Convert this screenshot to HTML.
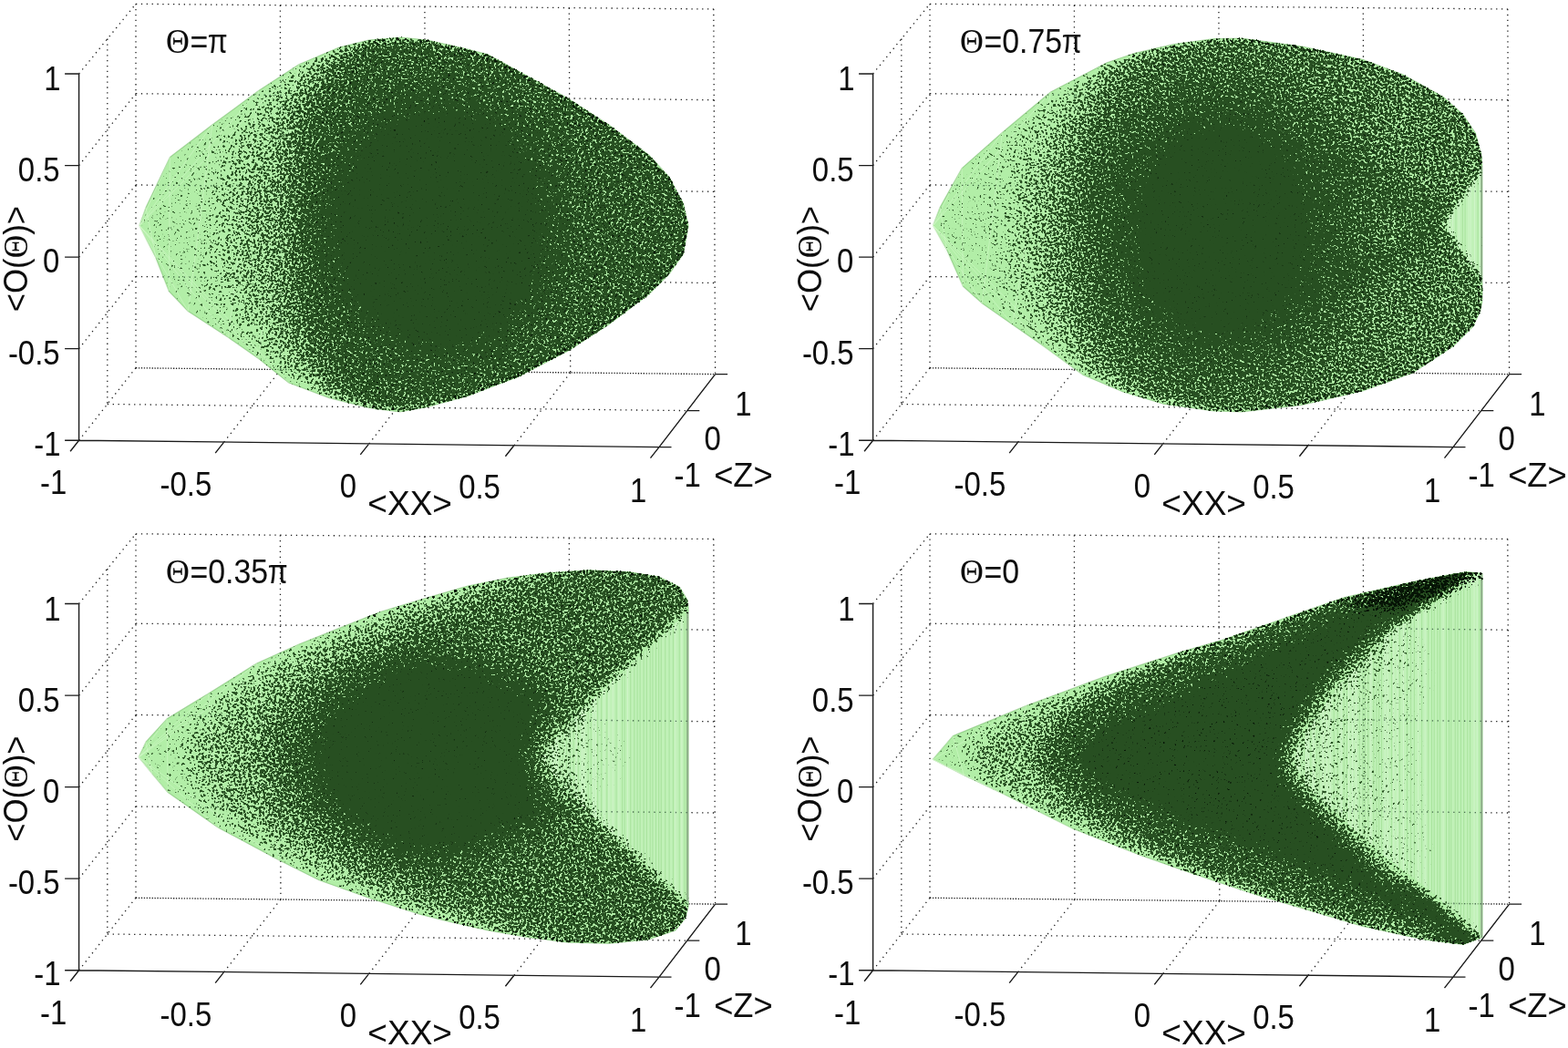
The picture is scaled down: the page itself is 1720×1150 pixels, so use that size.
<!DOCTYPE html>
<html lang="en"><head><meta charset="utf-8"><title>Figure</title>
<style>html,body{margin:0;padding:0;background:#fff;overflow:hidden}svg{display:block}text{font-family:"Liberation Sans",sans-serif}</style>
</head><body>
<svg width="1720" height="1150" viewBox="0 0 1720 1150">
<defs>
<filter id="stip0" filterUnits="userSpaceOnUse" x="110" y="-420" width="810" height="755" color-interpolation-filters="sRGB">
<feTurbulence type="fractalNoise" baseFrequency="0.42" numOctaves="2" seed="7" result="t"/>
<feColorMatrix in="t" type="matrix" values="0 0 0 1 0  0 0 0 0 0  0 0 0 1 0  0 0 0 0 1" result="n0"/>
<feComponentTransfer in="n0" result="n"><feFuncR type="table" tableValues="0 0 0 0 0 0 0 0 0 0 0 0 0 0 0 0 0 0 0 0 0 0 0 0 0 0 0.001 0.001 0.001 0.002 0.002 0.003 0.004 0.005 0.007 0.009 0.011 0.014 0.018 0.022 0.028 0.034 0.041 0.049 0.059 0.069 0.08 0.093 0.107 0.123 0.139 0.157 0.176 0.197 0.218 0.242 0.266 0.292 0.32 0.348 0.378 0.409 0.441 0.473 0.506 0.539 0.572 0.604 0.635 0.664 0.693 0.72 0.745 0.77 0.792 0.814 0.834 0.853 0.87 0.886 0.901 0.914 0.927 0.938 0.948 0.956 0.964 0.971 0.976 0.981 0.985 0.988 0.991 0.993 0.995 0.996 0.997 0.998 0.998 0.999 0.999 0.999 1 1 1 1 1 1 1 1 1 1 1 1 1 1 1 1 1 1 1 1 1 1 1 1 1 1 1"/><feFuncB type="table" tableValues="0 0 0 0 0 0 0 0 0 0 0 0 0 0 0 0 0 0 0 0 0 0 0 0 0 0 0.001 0.001 0.001 0.002 0.002 0.003 0.004 0.005 0.007 0.009 0.011 0.014 0.018 0.022 0.028 0.034 0.041 0.049 0.059 0.069 0.08 0.093 0.107 0.123 0.139 0.157 0.176 0.197 0.218 0.242 0.266 0.292 0.32 0.348 0.378 0.409 0.441 0.473 0.506 0.539 0.572 0.604 0.635 0.664 0.693 0.72 0.745 0.77 0.792 0.814 0.834 0.853 0.87 0.886 0.901 0.914 0.927 0.938 0.948 0.956 0.964 0.971 0.976 0.981 0.985 0.988 0.991 0.993 0.995 0.996 0.997 0.998 0.998 0.999 0.999 0.999 1 1 1 1 1 1 1 1 1 1 1 1 1 1 1 1 1 1 1 1 1 1 1 1 1 1 1"/></feComponentTransfer>
<feComponentTransfer in="SourceGraphic" result="d"><feFuncR type="table" tableValues="0 0.0205 0.0281 0.0342 0.0399 0.0447 0.05 0.0554 0.0608 0.0682 0.0751 0.082 0.089 0.096 0.1052 0.1137 0.1233 0.1323 0.1398 0.1517 0.1644 0.1734 0.1823 0.1923 0.2105 0.2239 0.2354 0.2482 0.2599 0.27 0.2824 0.2997 0.3131 0.3285 0.3434 0.3525 0.3701 0.3807 0.4066 0.4166 0.4264 0.4487 0.4661 0.4789 0.5068 0.5153 0.5354 0.5593 0.5759 0.5903 0.6144 0.6327 0.6554 0.6778 0.7014 0.7249 0.7496 0.7673 0.7942 0.8161 0.8437 0.8729 0.8953 0.9179 1"/><feFuncB type="table" tableValues="0 0.0205 0.0281 0.0342 0.0399 0.0447 0.05 0.0554 0.0608 0.0682 0.0751 0.082 0.089 0.096 0.1052 0.1137 0.1233 0.1323 0.1398 0.1517 0.1644 0.1734 0.1823 0.1923 0.2105 0.2239 0.2354 0.2482 0.2599 0.27 0.2824 0.2997 0.3131 0.3285 0.3434 0.3525 0.3701 0.3807 0.4066 0.4166 0.4264 0.4487 0.4661 0.4789 0.5068 0.5153 0.5354 0.5593 0.5759 0.5903 0.6144 0.6327 0.6554 0.6778 0.7014 0.7249 0.7496 0.7673 0.7942 0.8161 0.8437 0.8729 0.8953 0.9179 1"/></feComponentTransfer>
<feComposite in="d" in2="n" operator="arithmetic" k1="0" k2="13.0" k3="-12.0" k4="0" result="c"/>
<feGaussianBlur in="c" stdDeviation="0.6" result="bl"/>
<feComponentTransfer in="bl" result="g"><feFuncR type="linear" slope="4.0" intercept="-0.35"/><feFuncB type="linear" slope="4.0" intercept="-0.35"/></feComponentTransfer>
<feColorMatrix in="g" type="matrix" values="0 0 -0.129 0 0.153  0 0 -0.231 0 0.310  0 0 -0.106 0 0.129  1 0 1 0 0"/>
</filter>
<filter id="stip1" filterUnits="userSpaceOnUse" x="110" y="-420" width="810" height="755" color-interpolation-filters="sRGB">
<feTurbulence type="fractalNoise" baseFrequency="0.42" numOctaves="2" seed="12" result="t"/>
<feColorMatrix in="t" type="matrix" values="0 0 0 1 0  0 0 0 0 0  0 0 0 1 0  0 0 0 0 1" result="n0"/>
<feComponentTransfer in="n0" result="n"><feFuncR type="table" tableValues="0 0 0 0 0 0 0 0 0 0 0 0 0 0 0 0 0 0 0 0 0 0 0 0 0 0 0.001 0.001 0.001 0.002 0.002 0.003 0.004 0.005 0.007 0.009 0.011 0.014 0.018 0.022 0.028 0.034 0.041 0.049 0.059 0.069 0.08 0.093 0.107 0.123 0.139 0.157 0.176 0.197 0.218 0.242 0.266 0.292 0.32 0.348 0.378 0.409 0.441 0.473 0.506 0.539 0.572 0.604 0.635 0.664 0.693 0.72 0.745 0.77 0.792 0.814 0.834 0.853 0.87 0.886 0.901 0.914 0.927 0.938 0.948 0.956 0.964 0.971 0.976 0.981 0.985 0.988 0.991 0.993 0.995 0.996 0.997 0.998 0.998 0.999 0.999 0.999 1 1 1 1 1 1 1 1 1 1 1 1 1 1 1 1 1 1 1 1 1 1 1 1 1 1 1"/><feFuncB type="table" tableValues="0 0 0 0 0 0 0 0 0 0 0 0 0 0 0 0 0 0 0 0 0 0 0 0 0 0 0.001 0.001 0.001 0.002 0.002 0.003 0.004 0.005 0.007 0.009 0.011 0.014 0.018 0.022 0.028 0.034 0.041 0.049 0.059 0.069 0.08 0.093 0.107 0.123 0.139 0.157 0.176 0.197 0.218 0.242 0.266 0.292 0.32 0.348 0.378 0.409 0.441 0.473 0.506 0.539 0.572 0.604 0.635 0.664 0.693 0.72 0.745 0.77 0.792 0.814 0.834 0.853 0.87 0.886 0.901 0.914 0.927 0.938 0.948 0.956 0.964 0.971 0.976 0.981 0.985 0.988 0.991 0.993 0.995 0.996 0.997 0.998 0.998 0.999 0.999 0.999 1 1 1 1 1 1 1 1 1 1 1 1 1 1 1 1 1 1 1 1 1 1 1 1 1 1 1"/></feComponentTransfer>
<feComponentTransfer in="SourceGraphic" result="d"><feFuncR type="table" tableValues="0 0.0205 0.0281 0.0342 0.0399 0.0447 0.05 0.0554 0.0608 0.0682 0.0751 0.082 0.089 0.096 0.1052 0.1137 0.1233 0.1323 0.1398 0.1517 0.1644 0.1734 0.1823 0.1923 0.2105 0.2239 0.2354 0.2482 0.2599 0.27 0.2824 0.2997 0.3131 0.3285 0.3434 0.3525 0.3701 0.3807 0.4066 0.4166 0.4264 0.4487 0.4661 0.4789 0.5068 0.5153 0.5354 0.5593 0.5759 0.5903 0.6144 0.6327 0.6554 0.6778 0.7014 0.7249 0.7496 0.7673 0.7942 0.8161 0.8437 0.8729 0.8953 0.9179 1"/><feFuncB type="table" tableValues="0 0.0205 0.0281 0.0342 0.0399 0.0447 0.05 0.0554 0.0608 0.0682 0.0751 0.082 0.089 0.096 0.1052 0.1137 0.1233 0.1323 0.1398 0.1517 0.1644 0.1734 0.1823 0.1923 0.2105 0.2239 0.2354 0.2482 0.2599 0.27 0.2824 0.2997 0.3131 0.3285 0.3434 0.3525 0.3701 0.3807 0.4066 0.4166 0.4264 0.4487 0.4661 0.4789 0.5068 0.5153 0.5354 0.5593 0.5759 0.5903 0.6144 0.6327 0.6554 0.6778 0.7014 0.7249 0.7496 0.7673 0.7942 0.8161 0.8437 0.8729 0.8953 0.9179 1"/></feComponentTransfer>
<feComposite in="d" in2="n" operator="arithmetic" k1="0" k2="13.0" k3="-12.0" k4="0" result="c"/>
<feGaussianBlur in="c" stdDeviation="0.6" result="bl"/>
<feComponentTransfer in="bl" result="g"><feFuncR type="linear" slope="4.0" intercept="-0.35"/><feFuncB type="linear" slope="4.0" intercept="-0.35"/></feComponentTransfer>
<feColorMatrix in="g" type="matrix" values="0 0 -0.129 0 0.153  0 0 -0.231 0 0.310  0 0 -0.106 0 0.129  1 0 1 0 0"/>
</filter>
<filter id="stip2" filterUnits="userSpaceOnUse" x="110" y="-420" width="810" height="755" color-interpolation-filters="sRGB">
<feTurbulence type="fractalNoise" baseFrequency="0.42" numOctaves="2" seed="17" result="t"/>
<feColorMatrix in="t" type="matrix" values="0 0 0 1 0  0 0 0 0 0  0 0 0 1 0  0 0 0 0 1" result="n0"/>
<feComponentTransfer in="n0" result="n"><feFuncR type="table" tableValues="0 0 0 0 0 0 0 0 0 0 0 0 0 0 0 0 0 0 0 0 0 0 0 0 0 0 0.001 0.001 0.001 0.002 0.002 0.003 0.004 0.005 0.007 0.009 0.011 0.014 0.018 0.022 0.028 0.034 0.041 0.049 0.059 0.069 0.08 0.093 0.107 0.123 0.139 0.157 0.176 0.197 0.218 0.242 0.266 0.292 0.32 0.348 0.378 0.409 0.441 0.473 0.506 0.539 0.572 0.604 0.635 0.664 0.693 0.72 0.745 0.77 0.792 0.814 0.834 0.853 0.87 0.886 0.901 0.914 0.927 0.938 0.948 0.956 0.964 0.971 0.976 0.981 0.985 0.988 0.991 0.993 0.995 0.996 0.997 0.998 0.998 0.999 0.999 0.999 1 1 1 1 1 1 1 1 1 1 1 1 1 1 1 1 1 1 1 1 1 1 1 1 1 1 1"/><feFuncB type="table" tableValues="0 0 0 0 0 0 0 0 0 0 0 0 0 0 0 0 0 0 0 0 0 0 0 0 0 0 0.001 0.001 0.001 0.002 0.002 0.003 0.004 0.005 0.007 0.009 0.011 0.014 0.018 0.022 0.028 0.034 0.041 0.049 0.059 0.069 0.08 0.093 0.107 0.123 0.139 0.157 0.176 0.197 0.218 0.242 0.266 0.292 0.32 0.348 0.378 0.409 0.441 0.473 0.506 0.539 0.572 0.604 0.635 0.664 0.693 0.72 0.745 0.77 0.792 0.814 0.834 0.853 0.87 0.886 0.901 0.914 0.927 0.938 0.948 0.956 0.964 0.971 0.976 0.981 0.985 0.988 0.991 0.993 0.995 0.996 0.997 0.998 0.998 0.999 0.999 0.999 1 1 1 1 1 1 1 1 1 1 1 1 1 1 1 1 1 1 1 1 1 1 1 1 1 1 1"/></feComponentTransfer>
<feComponentTransfer in="SourceGraphic" result="d"><feFuncR type="table" tableValues="0 0.0205 0.0281 0.0342 0.0399 0.0447 0.05 0.0554 0.0608 0.0682 0.0751 0.082 0.089 0.096 0.1052 0.1137 0.1233 0.1323 0.1398 0.1517 0.1644 0.1734 0.1823 0.1923 0.2105 0.2239 0.2354 0.2482 0.2599 0.27 0.2824 0.2997 0.3131 0.3285 0.3434 0.3525 0.3701 0.3807 0.4066 0.4166 0.4264 0.4487 0.4661 0.4789 0.5068 0.5153 0.5354 0.5593 0.5759 0.5903 0.6144 0.6327 0.6554 0.6778 0.7014 0.7249 0.7496 0.7673 0.7942 0.8161 0.8437 0.8729 0.8953 0.9179 1"/><feFuncB type="table" tableValues="0 0.0205 0.0281 0.0342 0.0399 0.0447 0.05 0.0554 0.0608 0.0682 0.0751 0.082 0.089 0.096 0.1052 0.1137 0.1233 0.1323 0.1398 0.1517 0.1644 0.1734 0.1823 0.1923 0.2105 0.2239 0.2354 0.2482 0.2599 0.27 0.2824 0.2997 0.3131 0.3285 0.3434 0.3525 0.3701 0.3807 0.4066 0.4166 0.4264 0.4487 0.4661 0.4789 0.5068 0.5153 0.5354 0.5593 0.5759 0.5903 0.6144 0.6327 0.6554 0.6778 0.7014 0.7249 0.7496 0.7673 0.7942 0.8161 0.8437 0.8729 0.8953 0.9179 1"/></feComponentTransfer>
<feComposite in="d" in2="n" operator="arithmetic" k1="0" k2="13.0" k3="-12.0" k4="0" result="c"/>
<feGaussianBlur in="c" stdDeviation="0.6" result="bl"/>
<feComponentTransfer in="bl" result="g"><feFuncR type="linear" slope="4.0" intercept="-0.35"/><feFuncB type="linear" slope="4.0" intercept="-0.35"/></feComponentTransfer>
<feColorMatrix in="g" type="matrix" values="0 0 -0.129 0 0.153  0 0 -0.231 0 0.310  0 0 -0.106 0 0.129  1 0 1 0 0"/>
</filter>
<filter id="stip3" filterUnits="userSpaceOnUse" x="110" y="-420" width="810" height="755" color-interpolation-filters="sRGB">
<feTurbulence type="fractalNoise" baseFrequency="0.42" numOctaves="2" seed="22" result="t"/>
<feColorMatrix in="t" type="matrix" values="0 0 0 1 0  0 0 0 0 0  0 0 0 1 0  0 0 0 0 1" result="n0"/>
<feComponentTransfer in="n0" result="n"><feFuncR type="table" tableValues="0 0 0 0 0 0 0 0 0 0 0 0 0 0 0 0 0 0 0 0 0 0 0 0 0 0 0.001 0.001 0.001 0.002 0.002 0.003 0.004 0.005 0.007 0.009 0.011 0.014 0.018 0.022 0.028 0.034 0.041 0.049 0.059 0.069 0.08 0.093 0.107 0.123 0.139 0.157 0.176 0.197 0.218 0.242 0.266 0.292 0.32 0.348 0.378 0.409 0.441 0.473 0.506 0.539 0.572 0.604 0.635 0.664 0.693 0.72 0.745 0.77 0.792 0.814 0.834 0.853 0.87 0.886 0.901 0.914 0.927 0.938 0.948 0.956 0.964 0.971 0.976 0.981 0.985 0.988 0.991 0.993 0.995 0.996 0.997 0.998 0.998 0.999 0.999 0.999 1 1 1 1 1 1 1 1 1 1 1 1 1 1 1 1 1 1 1 1 1 1 1 1 1 1 1"/><feFuncB type="table" tableValues="0 0 0 0 0 0 0 0 0 0 0 0 0 0 0 0 0 0 0 0 0 0 0 0 0 0 0.001 0.001 0.001 0.002 0.002 0.003 0.004 0.005 0.007 0.009 0.011 0.014 0.018 0.022 0.028 0.034 0.041 0.049 0.059 0.069 0.08 0.093 0.107 0.123 0.139 0.157 0.176 0.197 0.218 0.242 0.266 0.292 0.32 0.348 0.378 0.409 0.441 0.473 0.506 0.539 0.572 0.604 0.635 0.664 0.693 0.72 0.745 0.77 0.792 0.814 0.834 0.853 0.87 0.886 0.901 0.914 0.927 0.938 0.948 0.956 0.964 0.971 0.976 0.981 0.985 0.988 0.991 0.993 0.995 0.996 0.997 0.998 0.998 0.999 0.999 0.999 1 1 1 1 1 1 1 1 1 1 1 1 1 1 1 1 1 1 1 1 1 1 1 1 1 1 1"/></feComponentTransfer>
<feComponentTransfer in="SourceGraphic" result="d"><feFuncR type="table" tableValues="0 0.0205 0.0281 0.0342 0.0399 0.0447 0.05 0.0554 0.0608 0.0682 0.0751 0.082 0.089 0.096 0.1052 0.1137 0.1233 0.1323 0.1398 0.1517 0.1644 0.1734 0.1823 0.1923 0.2105 0.2239 0.2354 0.2482 0.2599 0.27 0.2824 0.2997 0.3131 0.3285 0.3434 0.3525 0.3701 0.3807 0.4066 0.4166 0.4264 0.4487 0.4661 0.4789 0.5068 0.5153 0.5354 0.5593 0.5759 0.5903 0.6144 0.6327 0.6554 0.6778 0.7014 0.7249 0.7496 0.7673 0.7942 0.8161 0.8437 0.8729 0.8953 0.9179 1"/><feFuncB type="table" tableValues="0 0.0205 0.0281 0.0342 0.0399 0.0447 0.05 0.0554 0.0608 0.0682 0.0751 0.082 0.089 0.096 0.1052 0.1137 0.1233 0.1323 0.1398 0.1517 0.1644 0.1734 0.1823 0.1923 0.2105 0.2239 0.2354 0.2482 0.2599 0.27 0.2824 0.2997 0.3131 0.3285 0.3434 0.3525 0.3701 0.3807 0.4066 0.4166 0.4264 0.4487 0.4661 0.4789 0.5068 0.5153 0.5354 0.5593 0.5759 0.5903 0.6144 0.6327 0.6554 0.6778 0.7014 0.7249 0.7496 0.7673 0.7942 0.8161 0.8437 0.8729 0.8953 0.9179 1"/></feComponentTransfer>
<feComposite in="d" in2="n" operator="arithmetic" k1="0" k2="13.0" k3="-12.0" k4="0" result="c"/>
<feGaussianBlur in="c" stdDeviation="0.6" result="bl"/>
<feComponentTransfer in="bl" result="g"><feFuncR type="linear" slope="4.0" intercept="-0.35"/><feFuncB type="linear" slope="4.0" intercept="-0.35"/></feComponentTransfer>
<feColorMatrix in="g" type="matrix" values="0 0 -0.129 0 0.153  0 0 -0.231 0 0.310  0 0 -0.106 0 0.129  1 0 1 0 0"/>
</filter>

<filter id="b2" x="-60%" y="-60%" width="220%" height="220%" color-interpolation-filters="sRGB"><feGaussianBlur stdDeviation="2"/></filter><filter id="b3" x="-60%" y="-60%" width="220%" height="220%" color-interpolation-filters="sRGB"><feGaussianBlur stdDeviation="3"/></filter><filter id="b4" x="-60%" y="-60%" width="220%" height="220%" color-interpolation-filters="sRGB"><feGaussianBlur stdDeviation="4"/></filter><filter id="b5" x="-60%" y="-60%" width="220%" height="220%" color-interpolation-filters="sRGB"><feGaussianBlur stdDeviation="5"/></filter><filter id="b9" x="-60%" y="-60%" width="220%" height="220%" color-interpolation-filters="sRGB"><feGaussianBlur stdDeviation="9"/></filter><filter id="b10" x="-60%" y="-60%" width="220%" height="220%" color-interpolation-filters="sRGB"><feGaussianBlur stdDeviation="10"/></filter><filter id="b11" x="-60%" y="-60%" width="220%" height="220%" color-interpolation-filters="sRGB"><feGaussianBlur stdDeviation="11"/></filter><filter id="b12" x="-60%" y="-60%" width="220%" height="220%" color-interpolation-filters="sRGB"><feGaussianBlur stdDeviation="12"/></filter><filter id="b15" x="-60%" y="-60%" width="220%" height="220%" color-interpolation-filters="sRGB"><feGaussianBlur stdDeviation="15"/></filter><filter id="b16" x="-60%" y="-60%" width="220%" height="220%" color-interpolation-filters="sRGB"><feGaussianBlur stdDeviation="16"/></filter><filter id="b18" x="-60%" y="-60%" width="220%" height="220%" color-interpolation-filters="sRGB"><feGaussianBlur stdDeviation="18"/></filter><filter id="b22" x="-60%" y="-60%" width="220%" height="220%" color-interpolation-filters="sRGB"><feGaussianBlur stdDeviation="22"/></filter><filter id="b24" x="-60%" y="-60%" width="220%" height="220%" color-interpolation-filters="sRGB"><feGaussianBlur stdDeviation="24"/></filter><filter id="b32" x="-60%" y="-60%" width="220%" height="220%" color-interpolation-filters="sRGB"><feGaussianBlur stdDeviation="32"/></filter>
<linearGradient id="rimL" gradientUnits="userSpaceOnUse" x1="330" y1="0" x2="560" y2="0"><stop offset="0" stop-color="#000" stop-opacity="0.7"/><stop offset="1" stop-color="#000" stop-opacity="0"/></linearGradient>
<linearGradient id="rimB" gradientUnits="userSpaceOnUse" x1="330" y1="0" x2="480" y2="0"><stop offset="0" stop-color="#000"/><stop offset="1" stop-color="#000050"/></linearGradient>
</defs>
<rect width="1720" height="1150" fill="#fff"/>
<g transform="translate(0 0)">
<path d="M149 4.2L149 403.8M307.4 5.7L307.9 405.5M465.9 7.1L466.8 407.2M624.3 8.6L625.7 408.9M782.8 10L784.6 410.6M149 4.3L782.8 10M149 102.7L783.2 109.7M149 202.9L783.7 210.3M149 303.5L784.1 310.5M149 403.7L784.6 410.7M86.6 81L149 4.3M86.6 181.6L149 102.7M86.6 282.1L149 202.9M86.6 382.6L149 303.5M86.6 483.2L149 403.7M117.8 42.6L117.8 443.5M245.7 485.1L307.9 405.5M404.8 486.9L466.8 407.2M563.9 488.8L625.7 408.9M117.8 443.5L753.8 450.6M149 403.8L784.6 410.6" fill="none" stroke="#1c1c1c" stroke-width="1.3" stroke-dasharray="1.3 4.56"/>
<path d="M149 403.8L784.6 410.6" fill="none" stroke="#1c1c1c" stroke-width="1.3" stroke-dasharray="1.3 4.56" stroke-dashoffset="2.93"/>
<path d="M86.6 81L86.6 483.2M86.6 483.2L723 490.6M723 490.6L784.6 410.6M71.1 81L86.6 81M71.1 181.6L86.6 181.6M71.1 282.1L86.6 282.1M71.1 382.6L86.6 382.6M71.1 483.2L86.6 483.2M86.6 483.2L77.1 495.2M245.7 485.1L236.2 497.1M404.8 486.9L395.3 498.9M563.9 488.8L554.4 500.8M723 490.6L713.5 502.6M723 490.6L736.5 490.6M753.8 450.6L767.3 450.6M784.6 410.6L798.1 410.6" fill="none" stroke="#1a1a1a" stroke-width="1.4" stroke-linecap="butt"/>
<clipPath id="hc0"><path d="M152.9 247.6L160 227.7L186.4 172.5L232.8 137.1L283.7 99.5L327.9 70.8L372 52L405.2 43.9L440 41L469 44L509 53L535.3 59.8L579.5 84L623.7 108.4L667.9 137.1L712 170.2L734.1 194.5L749.6 223.3L755.1 248L749.6 278.6L734.1 300.7L712 322.8L667.9 356L623.7 384.7L568.4 413.4L513.2 434.4L469 446.5L438.3 452L405.2 447.6L361 436.6L316.8 420L283.7 393.5L250.5 370.3L206.3 341.6L185.3 319.5L171 283Z"/></clipPath>
<path d="M152.9 247.6L160 227.7L186.4 172.5L232.8 137.1L283.7 99.5L327.9 70.8L372 52L405.2 43.9L440 41L469 44L509 53L535.3 59.8L579.5 84L623.7 108.4L667.9 137.1L712 170.2L734.1 194.5L749.6 223.3L755.1 248L749.6 278.6L734.1 300.7L712 322.8L667.9 356L623.7 384.7L568.4 413.4L513.2 434.4L469 446.5L438.3 452L405.2 447.6L361 436.6L316.8 420L283.7 393.5L250.5 370.3L206.3 341.6L185.3 319.5L171 283Z" fill="#7fe36c" fill-opacity="0.6" stroke="#5fae52" stroke-opacity="0.45" stroke-width="1.2" stroke-linejoin="round"/>
<path d="M152.9 247.6L160 227.7M152.9 247.6L186.4 172.5M152.9 247.6L232.8 137.1M152.9 247.6L283.7 99.5M152.9 247.6L327.9 70.8M152.9 247.6L316.8 420M152.9 247.6L283.7 393.5M152.9 247.6L250.5 370.3M152.9 247.6L206.3 341.6M152.9 247.6L185.3 319.5M152.9 247.6L171 283M160 227.7L171 283M186.4 172.5L185.3 319.5M232.8 137.1L206.3 341.6M283.7 99.5L250.5 370.3M327.9 70.8L283.7 393.5" fill="none" stroke="#e4ffdc" stroke-opacity="0.35" stroke-width="1"/>
<path d="M149 4.2L149 403.8M307.4 5.7L307.9 405.5M465.9 7.1L466.8 407.2M624.3 8.6L625.7 408.9M782.8 10L784.6 410.6M149 4.3L782.8 10M149 102.7L783.2 109.7M149 202.9L783.7 210.3M149 303.5L784.1 310.5M149 403.7L784.6 410.7M86.6 81L149 4.3M86.6 181.6L149 102.7M86.6 282.1L149 202.9M86.6 382.6L149 303.5M86.6 483.2L149 403.7M117.8 42.6L117.8 443.5M245.7 485.1L307.9 405.5M404.8 486.9L466.8 407.2M563.9 488.8L625.7 408.9M117.8 443.5L753.8 450.6M149 403.8L784.6 410.6" fill="none" stroke="#123" stroke-opacity="0.4" stroke-width="1.3" stroke-dasharray="1.3 4.56" clip-path="url(#hc0)"/>
<g transform="rotate(33.0)"><g filter="url(#stip0)"><g transform="rotate(-33.0)"><rect x="130" y="20" width="650" height="450" fill="#000"/><g clip-path="url(#hc0)">
<path d="M152.9 247.6L160 227.7L186.4 172.5L232.8 137.1L283.7 99.5L327.9 70.8L372 52L405.2 43.9L440 41L469 44L509 53L535.3 59.8L579.5 84L623.7 108.4L667.9 137.1L712 170.2L734.1 194.5L749.6 223.3L755.1 248L749.6 278.6L734.1 300.7L712 322.8L667.9 356L623.7 384.7L568.4 413.4L513.2 434.4L469 446.5L438.3 452L405.2 447.6L361 436.6L316.8 420L283.7 393.5L250.5 370.3L206.3 341.6L185.3 319.5L171 283Z" fill="#0d0000"/>
<path d="M248 248C248 232 248.5 214.7 251 200C253.5 185.3 257 172.5 263 160C269 147.5 277 136.2 287 125C297 113.8 310.5 102.5 323 93C335.5 83.5 350.5 76.8 362 68C373.5 59.2 383 54.7 392 40C401 25.3 331.3 -10 416 -20C500.7 -30 819.3 -109.3 900 -20C980.7 69.3 980.7 426.7 900 516C819.3 605.3 500.7 526 416 516C331.3 506 401 470.7 392 456C383 441.3 373.5 436.8 362 428C350.5 419.2 335.5 412.5 323 403C310.5 393.5 297 382.2 287 371C277 359.8 269 348.5 263 336C257 323.5 253.5 310.7 251 296C248.5 281.3 248 264 248 248Z" fill="#750000" filter="url(#b24)"/>
<path d="M318 248C318 228.7 318 209.2 319 190C320 170.8 320.5 148.8 324 133C327.5 117.2 334.3 105.5 340 95C345.7 84.5 351 79.2 358 70C365 60.8 373.7 55 382 40C390.3 25 321.7 -10 408 -20C494.3 -30 818 -109.3 900 -20C982 69.3 982 426.7 900 516C818 605.3 494.3 526 408 516C321.7 506 390.3 471 382 456C373.7 441 365 435.2 358 426C351 416.8 345.7 411.5 340 401C334.3 390.5 327.5 378.8 324 363C320.5 347.2 320 325.2 319 306C318 286.8 318 267.3 318 248Z" fill="#db000d" filter="url(#b16)"/>
<ellipse cx="482" cy="250" rx="140" ry="155" fill="#ff0005" filter="url(#b22)"/>
<path d="M152.9 247.6L160 227.7L186.4 172.5L232.8 137.1L283.7 99.5L327.9 70.8L372 52L405.2 43.9L440 41L469 44L509 53L535.3 59.8L579.5 84L623.7 108.4L667.9 137.1L712 170.2L734.1 194.5L749.6 223.3L755.1 248L749.6 278.6L734.1 300.7L712 322.8L667.9 356L623.7 384.7L568.4 413.4L513.2 434.4L469 446.5L438.3 452L405.2 447.6L361 436.6L316.8 420L283.7 393.5L250.5 370.3L206.3 341.6L185.3 319.5L171 283Z" fill="none" stroke="url(#rimL)" stroke-width="9" stroke-linejoin="round" filter="url(#b3)"/>
<path d="M152.9 247.6L160 227.7L186.4 172.5L232.8 137.1L283.7 99.5L327.9 70.8L372 52L405.2 43.9L440 41L469 44L509 53L535.3 59.8L579.5 84L623.7 108.4L667.9 137.1L712 170.2L734.1 194.5L749.6 223.3L755.1 248L749.6 278.6L734.1 300.7L712 322.8L667.9 356L623.7 384.7L568.4 413.4L513.2 434.4L469 446.5L438.3 452L405.2 447.6L361 436.6L316.8 420L283.7 393.5L250.5 370.3L206.3 341.6L185.3 319.5L171 283Z" fill="none" stroke="url(#rimB)" stroke-width="5" stroke-linejoin="round" filter="url(#b2)" style="mix-blend-mode:screen"/>
</g></g></g></g>
<g font-size="37" fill="#0d0d0d">
<text transform="translate(48.32 99.00) scale(0.89 1)">1</text>
<text transform="translate(19.85 199.30) scale(0.89 1)">0.5</text>
<text transform="translate(46.99 299.30) scale(0.89 1)">0</text>
<text transform="translate(8.88 399.60) scale(0.89 1)">-0.5</text>
<text transform="translate(37.34 499.80) scale(0.89 1)">-1</text>
<text transform="translate(43.94 542.00) scale(0.89 1)">-1</text>
<text transform="translate(175.48 544.30) scale(0.89 1)">-0.5</text>
<text transform="translate(372.79 545.80) scale(0.89 1)">0</text>
<text transform="translate(503.15 547.00) scale(0.89 1)">0.5</text>
<text transform="translate(690.92 550.50) scale(0.89 1)">1</text>
<text transform="translate(739.57 534.00) scale(0.89 1)">-1</text>
<text transform="translate(772.38 494.40) scale(0.89 1)">0</text>
<text transform="translate(806.28 455.60) scale(0.89 1)">1</text>
<text transform="translate(783.19 534.00) scale(0.98 1)">&lt;Z&gt;</text>
<text transform="translate(403.35 564.70) scale(1.0 1)">&lt;XX&gt;</text>
<text transform="translate(30 342.24) rotate(-90) scale(0.94 1)">&lt;O(<tspan font-family='"Liberation Serif",serif' font-size="37.7">Θ</tspan>)&gt;</text>
<text y="58.3"><tspan x="182.07" textLength="25.89" lengthAdjust="spacingAndGlyphs" style='font-family:"Liberation Serif",serif' font-size="37.7">Θ</tspan><tspan x="208.51" textLength="19.77" lengthAdjust="spacingAndGlyphs">=</tspan><tspan x="227.69" textLength="21.95" lengthAdjust="spacingAndGlyphs">π</tspan></text>
</g>
</g>
<g transform="translate(871 0)">
<path d="M149 4.2L149 403.8M307.4 5.7L307.9 405.5M465.9 7.1L466.8 407.2M624.3 8.6L625.7 408.9M782.8 10L784.6 410.6M149 4.3L782.8 10M149 102.7L783.2 109.7M149 202.9L783.7 210.3M149 303.5L784.1 310.5M149 403.7L784.6 410.7M86.6 81L149 4.3M86.6 181.6L149 102.7M86.6 282.1L149 202.9M86.6 382.6L149 303.5M86.6 483.2L149 403.7M117.8 42.6L117.8 443.5M245.7 485.1L307.9 405.5M404.8 486.9L466.8 407.2M563.9 488.8L625.7 408.9M117.8 443.5L753.8 450.6M149 403.8L784.6 410.6" fill="none" stroke="#1c1c1c" stroke-width="1.3" stroke-dasharray="1.3 4.56"/>
<path d="M149 403.8L784.6 410.6" fill="none" stroke="#1c1c1c" stroke-width="1.3" stroke-dasharray="1.3 4.56" stroke-dashoffset="2.93"/>
<path d="M86.6 81L86.6 483.2M86.6 483.2L723 490.6M723 490.6L784.6 410.6M71.1 81L86.6 81M71.1 181.6L86.6 181.6M71.1 282.1L86.6 282.1M71.1 382.6L86.6 382.6M71.1 483.2L86.6 483.2M86.6 483.2L77.1 495.2M245.7 485.1L236.2 497.1M404.8 486.9L395.3 498.9M563.9 488.8L554.4 500.8M723 490.6L713.5 502.6M723 490.6L736.5 490.6M753.8 450.6L767.3 450.6M784.6 410.6L798.1 410.6" fill="none" stroke="#1a1a1a" stroke-width="1.4" stroke-linecap="butt"/>
<clipPath id="hc1"><path d="M152.5 247.5L160 227.7L184.2 184.6L228.4 145.5L281.5 101L343.3 68.8L374.2 58.3L416.2 48.7L460.4 42.5L491 42L557.4 51L623.7 65.3L667.9 81.9L712 106.2L734.1 126L747.4 146L754 170.2L755 183.5L755 330L753 340.5L745 358L723 380L679 409L623.7 429L557.4 444.3L491 452L460.4 451L405.2 443.2L361 430L316.8 411.2L272.6 379.1L239.5 356L206.3 332.7L185.3 314L167.7 274.2Z"/></clipPath>
<path d="M152.5 247.5L160 227.7L184.2 184.6L228.4 145.5L281.5 101L343.3 68.8L374.2 58.3L416.2 48.7L460.4 42.5L491 42L557.4 51L623.7 65.3L667.9 81.9L712 106.2L734.1 126L747.4 146L754 170.2L755 183.5L755 330L753 340.5L745 358L723 380L679 409L623.7 429L557.4 444.3L491 452L460.4 451L405.2 443.2L361 430L316.8 411.2L272.6 379.1L239.5 356L206.3 332.7L185.3 314L167.7 274.2Z" fill="#7fe36c" fill-opacity="0.6" stroke="#5fae52" stroke-opacity="0.45" stroke-width="1.2" stroke-linejoin="round"/>
<path d="M152.5 247.5L160 227.7M152.5 247.5L184.2 184.6M152.5 247.5L228.4 145.5M152.5 247.5L281.5 101M152.5 247.5L316.8 411.2M152.5 247.5L272.6 379.1M152.5 247.5L239.5 356M152.5 247.5L206.3 332.7M152.5 247.5L185.3 314M152.5 247.5L167.7 274.2M160 227.7L167.7 274.2M184.2 184.6L185.3 314M228.4 145.5L206.3 332.7M281.5 101L239.5 356M316.8 411.2L272.6 379.1" fill="none" stroke="#e4ffdc" stroke-opacity="0.35" stroke-width="1"/>
<g clip-path="url(#hc1)"><clipPath id="fc1"><path d="M712 246L756 180L756 312Z"/></clipPath><g clip-path="url(#fc1)"><path d="M712 246L756 180L756 312Z" fill="#fff" fill-opacity="0.2"/><path d="M716 40V460M726 40V460M733.3 40V460M736.1 40V460M750.1 40V460" stroke="#55b545" stroke-opacity="0.22" stroke-width="1.1" fill="none"/><path d="M719.4 40V460M722.6 40V460M729.3 40V460M740.1 40V460M742.2 40V460M746.6 40V460M752.2 40V460" stroke="#fff" stroke-opacity="0.25" stroke-width="1" fill="none"/></g><path d="M754.3 182V310" stroke="#7f9a7c" stroke-opacity="0.8" stroke-width="2" fill="none"/></g>
<path d="M149 4.2L149 403.8M307.4 5.7L307.9 405.5M465.9 7.1L466.8 407.2M624.3 8.6L625.7 408.9M782.8 10L784.6 410.6M149 4.3L782.8 10M149 102.7L783.2 109.7M149 202.9L783.7 210.3M149 303.5L784.1 310.5M149 403.7L784.6 410.7M86.6 81L149 4.3M86.6 181.6L149 102.7M86.6 282.1L149 202.9M86.6 382.6L149 303.5M86.6 483.2L149 403.7M117.8 42.6L117.8 443.5M245.7 485.1L307.9 405.5M404.8 486.9L466.8 407.2M563.9 488.8L625.7 408.9M117.8 443.5L753.8 450.6M149 403.8L784.6 410.6" fill="none" stroke="#123" stroke-opacity="0.4" stroke-width="1.3" stroke-dasharray="1.3 4.56" clip-path="url(#hc1)"/>
<g transform="rotate(33.0)"><g filter="url(#stip1)"><g transform="rotate(-33.0)"><rect x="130" y="20" width="650" height="450" fill="#000"/><g clip-path="url(#hc1)">
<path d="M152.5 247.5L160 227.7L184.2 184.6L228.4 145.5L281.5 101L343.3 68.8L374.2 58.3L416.2 48.7L460.4 42.5L491 42L557.4 51L623.7 65.3L667.9 81.9L712 106.2L734.1 126L747.4 146L754 170.2L755 183.5L755 330L753 340.5L745 358L723 380L679 409L623.7 429L557.4 444.3L491 452L460.4 451L405.2 443.2L361 430L316.8 411.2L272.6 379.1L239.5 356L206.3 332.7L185.3 314L167.7 274.2Z" fill="#0d0000"/>
<path d="M248 248C248 232 248.7 214.7 251 200C253.3 185.3 256.3 172.5 262 160C267.7 147.5 275.3 136.2 285 125C294.7 113.8 307.5 102.5 320 93C332.5 83.5 348 76.8 360 68C372 59.2 382.7 54.7 392 40C401.3 25.3 331.3 -10 416 -20C500.7 -30 819.3 -109.3 900 -20C980.7 69.3 980.7 426.7 900 516C819.3 605.3 500.7 526 416 516C331.3 506 401.3 470.7 392 456C382.7 441.3 372 436.8 360 428C348 419.2 332.5 412.5 320 403C307.5 393.5 294.7 382.2 285 371C275.3 359.8 267.7 348.5 262 336C256.3 323.5 253.3 310.7 251 296C248.7 281.3 248 264 248 248Z" fill="#700000" filter="url(#b24)"/>
<path d="M316 248C316 228.7 316 209.2 317 190C318 170.8 318.5 148.8 322 133C325.5 117.2 332 105.5 338 95C344 84.5 350.7 79.2 358 70C365.3 60.8 373.7 55 382 40C390.3 25 321.7 -10 408 -20C494.3 -30 818 -109.3 900 -20C982 69.3 982 426.7 900 516C818 605.3 494.3 526 408 516C321.7 506 390.3 471 382 456C373.7 441 365.3 435.2 358 426C350.7 416.8 344 411.5 338 401C332 390.5 325.5 378.8 322 363C318.5 347.2 318 325.2 317 306C316 286.8 316 267.3 316 248Z" fill="#b2000d" filter="url(#b16)"/>
<ellipse cx="470" cy="252" rx="165" ry="175" fill="#f20005" filter="url(#b32)"/>
<ellipse cx="470" cy="252" rx="105" ry="125" fill="#ff0005" filter="url(#b18)"/>
<path d="M152.5 247.5L160 227.7L184.2 184.6L228.4 145.5L281.5 101L343.3 68.8L374.2 58.3L416.2 48.7L460.4 42.5L491 42L557.4 51L623.7 65.3L667.9 81.9L712 106.2L734.1 126L747.4 146L754 170.2L755 183.5L755 330L753 340.5L745 358L723 380L679 409L623.7 429L557.4 444.3L491 452L460.4 451L405.2 443.2L361 430L316.8 411.2L272.6 379.1L239.5 356L206.3 332.7L185.3 314L167.7 274.2Z" fill="none" stroke="url(#rimL)" stroke-width="9" stroke-linejoin="round" filter="url(#b3)"/>
<path d="M152.5 247.5L160 227.7L184.2 184.6L228.4 145.5L281.5 101L343.3 68.8L374.2 58.3L416.2 48.7L460.4 42.5L491 42L557.4 51L623.7 65.3L667.9 81.9L712 106.2L734.1 126L747.4 146L754 170.2L755 183.5L755 330L753 340.5L745 358L723 380L679 409L623.7 429L557.4 444.3L491 452L460.4 451L405.2 443.2L361 430L316.8 411.2L272.6 379.1L239.5 356L206.3 332.7L185.3 314L167.7 274.2Z" fill="none" stroke="url(#rimB)" stroke-width="5" stroke-linejoin="round" filter="url(#b2)" style="mix-blend-mode:screen"/>
<path d="M716 246L650 205L590 180M716 246L650 287L590 312" fill="none" stroke="#ff0005" stroke-opacity="0.55" stroke-width="26" stroke-linecap="round" stroke-linejoin="round" filter="url(#b10)"/>
<path d="M712 246L760 180L760 312Z" fill="#000000" filter="url(#b3)"/>
</g></g></g></g>
<g font-size="37" fill="#0d0d0d">
<text transform="translate(48.32 99.00) scale(0.89 1)">1</text>
<text transform="translate(19.85 199.30) scale(0.89 1)">0.5</text>
<text transform="translate(46.99 299.30) scale(0.89 1)">0</text>
<text transform="translate(8.88 399.60) scale(0.89 1)">-0.5</text>
<text transform="translate(37.34 499.80) scale(0.89 1)">-1</text>
<text transform="translate(43.94 542.00) scale(0.89 1)">-1</text>
<text transform="translate(175.48 544.30) scale(0.89 1)">-0.5</text>
<text transform="translate(372.79 545.80) scale(0.89 1)">0</text>
<text transform="translate(503.15 547.00) scale(0.89 1)">0.5</text>
<text transform="translate(690.92 550.50) scale(0.89 1)">1</text>
<text transform="translate(739.57 534.00) scale(0.89 1)">-1</text>
<text transform="translate(772.38 494.40) scale(0.89 1)">0</text>
<text transform="translate(806.28 455.60) scale(0.89 1)">1</text>
<text transform="translate(783.19 534.00) scale(0.98 1)">&lt;Z&gt;</text>
<text transform="translate(403.35 564.70) scale(1.0 1)">&lt;XX&gt;</text>
<text transform="translate(30 342.24) rotate(-90) scale(0.94 1)">&lt;O(<tspan font-family='"Liberation Serif",serif' font-size="37.7">Θ</tspan>)&gt;</text>
<text y="58.3"><tspan x="182.07" textLength="25.89" lengthAdjust="spacingAndGlyphs" style='font-family:"Liberation Serif",serif' font-size="37.7">Θ</tspan><tspan x="208.51" textLength="85.66" lengthAdjust="spacingAndGlyphs">=0.75</tspan><tspan x="293.82" textLength="21.95" lengthAdjust="spacingAndGlyphs">π</tspan></text>
</g>
</g>
<g transform="translate(0 581.5)">
<path d="M149 4.2L149 403.8M307.4 5.7L307.9 405.5M465.9 7.1L466.8 407.2M624.3 8.6L625.7 408.9M782.8 10L784.6 410.6M149 4.3L782.8 10M149 102.7L783.2 109.7M149 202.9L783.7 210.3M149 303.5L784.1 310.5M149 403.7L784.6 410.7M86.6 81L149 4.3M86.6 181.6L149 102.7M86.6 282.1L149 202.9M86.6 382.6L149 303.5M86.6 483.2L149 403.7M117.8 42.6L117.8 443.5M245.7 485.1L307.9 405.5M404.8 486.9L466.8 407.2M563.9 488.8L625.7 408.9M117.8 443.5L753.8 450.6M149 403.8L784.6 410.6" fill="none" stroke="#1c1c1c" stroke-width="1.3" stroke-dasharray="1.3 4.56"/>
<path d="M149 403.8L784.6 410.6" fill="none" stroke="#1c1c1c" stroke-width="1.3" stroke-dasharray="1.3 4.56" stroke-dashoffset="2.93"/>
<path d="M86.6 81L86.6 483.2M86.6 483.2L723 490.6M723 490.6L784.6 410.6M71.1 81L86.6 81M71.1 181.6L86.6 181.6M71.1 282.1L86.6 282.1M71.1 382.6L86.6 382.6M71.1 483.2L86.6 483.2M86.6 483.2L77.1 495.2M245.7 485.1L236.2 497.1M404.8 486.9L395.3 498.9M563.9 488.8L554.4 500.8M723 490.6L713.5 502.6M723 490.6L736.5 490.6M753.8 450.6L767.3 450.6M784.6 410.6L798.1 410.6" fill="none" stroke="#1a1a1a" stroke-width="1.4" stroke-linecap="butt"/>
<clipPath id="hc2"><path d="M152.2 249.3L160 232.7L183.1 207.3L228.4 179.7L281.5 146.5L327.9 125.5L372 107.9L416.2 90.2L460.4 76.9L513.2 61.5L557.4 52.6L601.6 47.1L645.8 44.2L690 46L723.1 51.5L745.2 62.6L754 76.9L755.1 85L755.1 412.9L751.8 426.1L740.8 439.4L712 449.3L667.9 453.8L623.7 452.7L579.5 447.1L535.3 439.4L491.1 429.5L460.4 421.7L405.2 404L350 384.2L305.8 362.1L239.5 326.7L184.2 288.1L166.6 267.1Z"/></clipPath>
<path d="M152.2 249.3L160 232.7L183.1 207.3L228.4 179.7L281.5 146.5L327.9 125.5L372 107.9L416.2 90.2L460.4 76.9L513.2 61.5L557.4 52.6L601.6 47.1L645.8 44.2L690 46L723.1 51.5L745.2 62.6L754 76.9L755.1 85L755.1 412.9L751.8 426.1L740.8 439.4L712 449.3L667.9 453.8L623.7 452.7L579.5 447.1L535.3 439.4L491.1 429.5L460.4 421.7L405.2 404L350 384.2L305.8 362.1L239.5 326.7L184.2 288.1L166.6 267.1Z" fill="#7fe36c" fill-opacity="0.6" stroke="#5fae52" stroke-opacity="0.45" stroke-width="1.2" stroke-linejoin="round"/>
<path d="M152.2 249.3L160 232.7M152.2 249.3L183.1 207.3M152.2 249.3L228.4 179.7M152.2 249.3L281.5 146.5M152.2 249.3L327.9 125.5M152.2 249.3L305.8 362.1M152.2 249.3L239.5 326.7M152.2 249.3L184.2 288.1M152.2 249.3L166.6 267.1M160 232.7L166.6 267.1M183.1 207.3L184.2 288.1M228.4 179.7L239.5 326.7M281.5 146.5L305.8 362.1" fill="none" stroke="#e4ffdc" stroke-opacity="0.35" stroke-width="1"/>
<g clip-path="url(#hc2)"><clipPath id="fc2"><path d="M590 250L640 195L756 88L756 410L640 305Z"/></clipPath><g clip-path="url(#fc2)"><path d="M590 250L640 195L756 88L756 410L640 305Z" fill="#fff" fill-opacity="0.2"/><path d="M594 40V460M600 40V460M602.9 40V460M614.1 40V460M617.2 40V460M621.5 40V460M625.5 40V460M629.2 40V460M634.3 40V460M645.2 40V460M648.2 40V460M655.6 40V460M659.6 40V460M665.8 40V460M676 40V460M682.6 40V460M685.2 40V460M691.7 40V460M695.8 40V460M699.1 40V460M702.1 40V460M706.1 40V460M709.4 40V460M713.2 40V460M715.9 40V460M719.5 40V460M722.6 40V460M725.3 40V460M729.7 40V460M734.1 40V460M738.4 40V460M745.2 40V460M750.7 40V460M752.7 40V460" stroke="#55b545" stroke-opacity="0.22" stroke-width="1.1" fill="none"/><path d="M597.6 40V460M607 40V460M610.5 40V460M632.3 40V460M638.6 40V460M640.8 40V460M651 40V460M653.4 40V460M662.7 40V460M667.9 40V460M672.3 40V460M678.9 40V460M688.5 40V460M740.9 40V460M747.8 40V460" stroke="#fff" stroke-opacity="0.25" stroke-width="1" fill="none"/></g><path d="M754.3 90V408" stroke="#7f9a7c" stroke-opacity="0.8" stroke-width="2" fill="none"/></g>
<path d="M149 4.2L149 403.8M307.4 5.7L307.9 405.5M465.9 7.1L466.8 407.2M624.3 8.6L625.7 408.9M782.8 10L784.6 410.6M149 4.3L782.8 10M149 102.7L783.2 109.7M149 202.9L783.7 210.3M149 303.5L784.1 310.5M149 403.7L784.6 410.7M86.6 81L149 4.3M86.6 181.6L149 102.7M86.6 282.1L149 202.9M86.6 382.6L149 303.5M86.6 483.2L149 403.7M117.8 42.6L117.8 443.5M245.7 485.1L307.9 405.5M404.8 486.9L466.8 407.2M563.9 488.8L625.7 408.9M117.8 443.5L753.8 450.6M149 403.8L784.6 410.6" fill="none" stroke="#123" stroke-opacity="0.4" stroke-width="1.3" stroke-dasharray="1.3 4.56" clip-path="url(#hc2)"/>
<g transform="rotate(33.0)"><g filter="url(#stip2)"><g transform="rotate(-33.0)"><rect x="130" y="20" width="650" height="450" fill="#000"/><g clip-path="url(#hc2)">
<path d="M152.2 249.3L160 232.7L183.1 207.3L228.4 179.7L281.5 146.5L327.9 125.5L372 107.9L416.2 90.2L460.4 76.9L513.2 61.5L557.4 52.6L601.6 47.1L645.8 44.2L690 46L723.1 51.5L745.2 62.6L754 76.9L755.1 85L755.1 412.9L751.8 426.1L740.8 439.4L712 449.3L667.9 453.8L623.7 452.7L579.5 447.1L535.3 439.4L491.1 429.5L460.4 421.7L405.2 404L350 384.2L305.8 362.1L239.5 326.7L184.2 288.1L166.6 267.1Z" fill="#0f0000"/>
<path d="M205 249C205 237.7 213.7 226.5 222 215C230.3 203.5 242.5 190.8 255 180C267.5 169.2 283.2 158.5 297 150C310.8 141.5 322.5 136.2 338 129C353.5 121.8 373 114 390 107C407 100 421.7 93.5 440 87C458.3 80.5 480 74.2 500 68C520 61.8 540 55.5 560 50C580 44.5 596.7 39.2 620 35C643.3 30.8 671.7 33.3 700 25C728.3 16.7 775 -95.5 790 -15C805 65.5 805 427.5 790 508C775 588.5 728.3 476.3 700 468C671.7 459.7 643.3 462.3 620 458C596.7 453.7 580 447.5 560 442C540 436.5 520 430.5 500 425C480 419.5 458.3 414.7 440 409C421.7 403.3 407 397.7 390 391C373 384.3 353.5 376.5 338 369C322.5 361.5 310.8 354.5 297 346C283.2 337.5 267.5 328.5 255 318C242.5 307.5 230.3 294.5 222 283C213.7 271.5 205 260.3 205 249Z" fill="#750000" filter="url(#b15)"/>
<path d="M283 249C283 237.3 288.8 226.5 295 215C301.2 203.5 310.8 190 320 180C329.2 170 338.3 163 350 155C361.7 147 375 139.8 390 132C405 124.2 421.7 116.7 440 108C458.3 99.3 480 88.8 500 80C520 71.2 540 62.5 560 55C580 47.5 596.7 40.8 620 35C643.3 29.2 671.7 29.2 700 20C728.3 10.8 775 -101.7 790 -20C805 61.7 805 428.3 790 510C775 591.7 728.3 478.7 700 470C671.7 461.3 643.3 463 620 458C596.7 453 580 446.7 560 440C540 433.3 520 425.5 500 418C480 410.5 458.3 403 440 395C421.7 387 405 378.3 390 370C375 361.7 361.7 353.7 350 345C338.3 336.3 329.2 328 320 318C310.8 308 301.2 296.5 295 285C288.8 273.5 283 260.7 283 249Z" fill="#c2000d" filter="url(#b16)"/>
<path d="M330 250C330 235.9 338.3 209.1 348 196C357.7 182.9 388.1 161.1 403 152C417.9 142.9 444.4 129.9 460 128C475.6 126.1 506.4 134.3 520 138C533.6 141.7 550.7 150.4 562 156C573.3 161.6 600.6 167.5 605 180C609.4 192.5 595 231.3 595 250C595 268.7 609.4 307.7 605 320C600.6 332.3 573.3 336.7 562 342C550.7 347.3 533.6 356.3 520 360C506.4 363.7 475.6 371.9 460 370C444.4 368.1 417.9 355.1 403 346C388.1 336.9 357.7 314.8 348 302C338.3 289.2 330 264.1 330 250Z" fill="#ff0005" filter="url(#b15)"/>
<path d="M152.2 249.3L160 232.7L183.1 207.3L228.4 179.7L281.5 146.5L327.9 125.5L372 107.9L416.2 90.2L460.4 76.9L513.2 61.5L557.4 52.6L601.6 47.1L645.8 44.2L690 46L723.1 51.5L745.2 62.6L754 76.9L755.1 85L755.1 412.9L751.8 426.1L740.8 439.4L712 449.3L667.9 453.8L623.7 452.7L579.5 447.1L535.3 439.4L491.1 429.5L460.4 421.7L405.2 404L350 384.2L305.8 362.1L239.5 326.7L184.2 288.1L166.6 267.1Z" fill="none" stroke="url(#rimL)" stroke-width="9" stroke-linejoin="round" filter="url(#b3)"/>
<path d="M152.2 249.3L160 232.7L183.1 207.3L228.4 179.7L281.5 146.5L327.9 125.5L372 107.9L416.2 90.2L460.4 76.9L513.2 61.5L557.4 52.6L601.6 47.1L645.8 44.2L690 46L723.1 51.5L745.2 62.6L754 76.9L755.1 85L755.1 412.9L751.8 426.1L740.8 439.4L712 449.3L667.9 453.8L623.7 452.7L579.5 447.1L535.3 439.4L491.1 429.5L460.4 421.7L405.2 404L350 384.2L305.8 362.1L239.5 326.7L184.2 288.1L166.6 267.1Z" fill="none" stroke="url(#rimB)" stroke-width="5" stroke-linejoin="round" filter="url(#b2)" style="mix-blend-mode:screen"/>
<path d="M596 249L650 202L770 110L770 390L650 296Z" fill="#000000" filter="url(#b16)"/>
<path d="M628 249L650 188L770 72L770 427L650 310Z" fill="#000000" filter="url(#b5)"/>
<path d="M598 249L640 205L668 249L640 293Z" fill="#210000" fill-opacity="0.9" filter="url(#b11)"/>
<path d="M640 249L665 215L700 249L665 283Z" fill="#0a0000" fill-opacity="0.9" filter="url(#b10)"/>
</g></g></g></g>
<g font-size="37" fill="#0d0d0d">
<text transform="translate(48.32 99.00) scale(0.89 1)">1</text>
<text transform="translate(19.85 199.30) scale(0.89 1)">0.5</text>
<text transform="translate(46.99 299.30) scale(0.89 1)">0</text>
<text transform="translate(8.88 399.60) scale(0.89 1)">-0.5</text>
<text transform="translate(37.34 499.80) scale(0.89 1)">-1</text>
<text transform="translate(43.94 542.00) scale(0.89 1)">-1</text>
<text transform="translate(175.48 544.30) scale(0.89 1)">-0.5</text>
<text transform="translate(372.79 545.80) scale(0.89 1)">0</text>
<text transform="translate(503.15 547.00) scale(0.89 1)">0.5</text>
<text transform="translate(690.92 550.50) scale(0.89 1)">1</text>
<text transform="translate(739.57 534.00) scale(0.89 1)">-1</text>
<text transform="translate(772.38 494.40) scale(0.89 1)">0</text>
<text transform="translate(806.28 455.60) scale(0.89 1)">1</text>
<text transform="translate(783.19 534.00) scale(0.98 1)">&lt;Z&gt;</text>
<text transform="translate(403.35 564.70) scale(1.0 1)">&lt;XX&gt;</text>
<text transform="translate(30 342.24) rotate(-90) scale(0.94 1)">&lt;O(<tspan font-family='"Liberation Serif",serif' font-size="37.7">Θ</tspan>)&gt;</text>
<text y="58.3"><tspan x="182.07" textLength="25.89" lengthAdjust="spacingAndGlyphs" style='font-family:"Liberation Serif",serif' font-size="37.7">Θ</tspan><tspan x="208.51" textLength="85.66" lengthAdjust="spacingAndGlyphs">=0.35</tspan><tspan x="293.82" textLength="21.95" lengthAdjust="spacingAndGlyphs">π</tspan></text>
</g>
</g>
<g transform="translate(871 581.5)">
<path d="M149 4.2L149 403.8M307.4 5.7L307.9 405.5M465.9 7.1L466.8 407.2M624.3 8.6L625.7 408.9M782.8 10L784.6 410.6M149 4.3L782.8 10M149 102.7L783.2 109.7M149 202.9L783.7 210.3M149 303.5L784.1 310.5M149 403.7L784.6 410.7M86.6 81L149 4.3M86.6 181.6L149 102.7M86.6 282.1L149 202.9M86.6 382.6L149 303.5M86.6 483.2L149 403.7M117.8 42.6L117.8 443.5M245.7 485.1L307.9 405.5M404.8 486.9L466.8 407.2M563.9 488.8L625.7 408.9M117.8 443.5L753.8 450.6M149 403.8L784.6 410.6" fill="none" stroke="#1c1c1c" stroke-width="1.3" stroke-dasharray="1.3 4.56"/>
<path d="M149 403.8L784.6 410.6" fill="none" stroke="#1c1c1c" stroke-width="1.3" stroke-dasharray="1.3 4.56" stroke-dashoffset="2.93"/>
<path d="M86.6 81L86.6 483.2M86.6 483.2L723 490.6M723 490.6L784.6 410.6M71.1 81L86.6 81M71.1 181.6L86.6 181.6M71.1 282.1L86.6 282.1M71.1 382.6L86.6 382.6M71.1 483.2L86.6 483.2M86.6 483.2L77.1 495.2M245.7 485.1L236.2 497.1M404.8 486.9L395.3 498.9M563.9 488.8L554.4 500.8M723 490.6L713.5 502.6M723 490.6L736.5 490.6M753.8 450.6L767.3 450.6M784.6 410.6L798.1 410.6" fill="none" stroke="#1a1a1a" stroke-width="1.4" stroke-linecap="butt"/>
<clipPath id="hc3"><path d="M152.2 251.8L174.3 226.1L254.9 192.9L341.1 160.9L422.9 134.4L469 121.1L535.3 97.9L601.6 74.7L667.9 59.3L712 50.4L738.6 46L755.1 47.8L755.1 447L734.1 454.9L690 449.3L623.7 435L557.4 415.1L509 401L438.3 377.5L378.7 356.5L305.8 327.8L230.6 290.3L186.4 269.3Z"/></clipPath>
<path d="M152.2 251.8L174.3 226.1L254.9 192.9L341.1 160.9L422.9 134.4L469 121.1L535.3 97.9L601.6 74.7L667.9 59.3L712 50.4L738.6 46L755.1 47.8L755.1 447L734.1 454.9L690 449.3L623.7 435L557.4 415.1L509 401L438.3 377.5L378.7 356.5L305.8 327.8L230.6 290.3L186.4 269.3Z" fill="#7fe36c" fill-opacity="0.6" stroke="#5fae52" stroke-opacity="0.45" stroke-width="1.2" stroke-linejoin="round"/>
<path d="M152.2 251.8L174.3 226.1M152.2 251.8L254.9 192.9M152.2 251.8L305.8 327.8M152.2 251.8L230.6 290.3M152.2 251.8L186.4 269.3M174.3 226.1L186.4 269.3M254.9 192.9L230.6 290.3" fill="none" stroke="#e4ffdc" stroke-opacity="0.35" stroke-width="1"/>
<g clip-path="url(#hc3)"><clipPath id="fc3"><path d="M545 250L562 220L595 173L652 113L706 78L756 44L756 452L734 428L690 390L646 357L602 318L560 278Z"/></clipPath><g clip-path="url(#fc3)"><path d="M545 250L562 220L595 173L652 113L706 78L756 44L756 452L734 428L690 390L646 357L602 318L560 278Z" fill="#fff" fill-opacity="0.2"/><path d="M549 40V460M556.8 40V460M559.4 40V460M566.8 40V460M573.4 40V460M576.1 40V460M592.2 40V460M596.3 40V460M603.3 40V460M606.3 40V460M620.2 40V460M623.9 40V460M626.3 40V460M629.7 40V460M635.8 40V460M639 40V460M641.6 40V460M644.5 40V460M655.5 40V460M664.3 40V460M672.5 40V460M676.6 40V460M680.4 40V460M688.6 40V460M695.7 40V460M699.5 40V460M702.2 40V460M705.9 40V460M708.5 40V460M715.5 40V460M718.6 40V460M720.8 40V460M725.3 40V460M728 40V460M731.5 40V460M734.7 40V460M738.8 40V460M741.6 40V460M752 40V460" stroke="#55b545" stroke-opacity="0.22" stroke-width="1.1" fill="none"/><path d="M552.7 40V460M562 40V460M564.3 40V460M569.9 40V460M580.3 40V460M584.3 40V460M588.2 40V460M600.2 40V460M608.6 40V460M612.6 40V460M616.3 40V460M632.8 40V460M648.2 40V460M651.1 40V460M657.8 40V460M661.9 40V460M668.5 40V460M684.8 40V460M692.2 40V460M712.1 40V460M746.1 40V460M749.2 40V460" stroke="#fff" stroke-opacity="0.25" stroke-width="1" fill="none"/></g><path d="M754.3 46V450" stroke="#7f9a7c" stroke-opacity="0.8" stroke-width="2" fill="none"/></g>
<path d="M149 4.2L149 403.8M307.4 5.7L307.9 405.5M465.9 7.1L466.8 407.2M624.3 8.6L625.7 408.9M782.8 10L784.6 410.6M149 4.3L782.8 10M149 102.7L783.2 109.7M149 202.9L783.7 210.3M149 303.5L784.1 310.5M149 403.7L784.6 410.7M86.6 81L149 4.3M86.6 181.6L149 102.7M86.6 282.1L149 202.9M86.6 382.6L149 303.5M86.6 483.2L149 403.7M117.8 42.6L117.8 443.5M245.7 485.1L307.9 405.5M404.8 486.9L466.8 407.2M563.9 488.8L625.7 408.9M117.8 443.5L753.8 450.6M149 403.8L784.6 410.6" fill="none" stroke="#123" stroke-opacity="0.4" stroke-width="1.3" stroke-dasharray="1.3 4.56" clip-path="url(#hc3)"/>
<g transform="rotate(33.0)"><g filter="url(#stip3)"><g transform="rotate(-33.0)"><rect x="130" y="20" width="650" height="450" fill="#000"/><g clip-path="url(#hc3)">
<path d="M152.2 251.8L174.3 226.1L254.9 192.9L341.1 160.9L422.9 134.4L469 121.1L535.3 97.9L601.6 74.7L667.9 59.3L712 50.4L738.6 46L755.1 47.8L755.1 447L734.1 454.9L690 449.3L623.7 435L557.4 415.1L509 401L438.3 377.5L378.7 356.5L305.8 327.8L230.6 290.3L186.4 269.3Z" fill="#120000"/>
<path d="M195 250C195 240 209.5 229.5 222 220C234.5 210.5 248.7 203 270 193C291.3 183 322.5 170.8 350 160C377.5 149.2 405.8 138.8 435 128C464.2 117.2 495 106 525 95C555 84 585.8 71.2 615 62C644.2 52.8 670.8 50.3 700 40C729.2 29.7 775 -75.5 790 0C805 75.5 805 417.5 790 493C775 568.5 727.7 462.3 700 453C672.3 443.7 647.8 443 624 437C600.2 431 576.2 422.7 557 417C537.8 411.3 528.8 409.3 509 403C489.2 396.7 464.5 388.3 438 379C411.5 369.7 378 359.2 350 347C322 334.8 291.3 317.2 270 306C248.7 294.8 234.5 289.3 222 280C209.5 270.7 195 260 195 250Z" fill="#750000" filter="url(#b10)"/>
<path d="M266 250C266 237.7 280.2 222.7 290 212C299.8 201.3 312.5 194 325 186C337.5 178 344.2 173.7 365 164C385.8 154.3 421.7 139.3 450 128C478.3 116.7 505.8 107 535 96C564.2 85 597.5 71.3 625 62C652.5 52.7 672.5 50.3 700 40C727.5 29.7 775 -74.5 790 0C805 74.5 806.7 412.5 790 487C773.3 561.5 717.7 456.3 690 447C662.3 437.7 646.2 437.2 624 431C601.8 424.8 576.2 416 557 410C537.8 404 528.8 401.8 509 395C489.2 388.2 462 378.8 438 369C414 359.2 383.8 345.7 365 336C346.2 326.3 337.5 319.3 325 311C312.5 302.7 299.8 296.2 290 286C280.2 275.8 266 262.3 266 250Z" fill="#db000d" filter="url(#b9)"/>
<path d="M308 250C308 238.7 323 225.5 335 216C347 206.5 360.8 202.3 380 193C399.2 183.7 422.5 173 450 160C477.5 147 515 129 545 115C575 101 604.2 86.8 630 76C655.8 65.2 673.3 61 700 50C726.7 39 775 -60.3 790 10C805 80.3 805 401.7 790 472C775 542.3 726.5 443.7 700 432C673.5 420.3 656.8 412.7 631 402C605.2 391.3 575.2 379.3 545 368C514.8 356.7 477.5 344.7 450 334C422.5 323.3 399.2 312.3 380 304C360.8 295.7 347 293 335 284C323 275 308 261.3 308 250Z" fill="#ff0008" filter="url(#b9)"/>
<path d="M152.2 251.8L174.3 226.1L254.9 192.9L341.1 160.9L422.9 134.4L469 121.1L535.3 97.9L601.6 74.7L667.9 59.3L712 50.4L738.6 46L755.1 47.8L755.1 447L734.1 454.9L690 449.3L623.7 435L557.4 415.1L509 401L438.3 377.5L378.7 356.5L305.8 327.8L230.6 290.3L186.4 269.3Z" fill="none" stroke="url(#rimL)" stroke-width="4" stroke-linejoin="round" filter="url(#b3)"/>
<path d="M152.2 251.8L174.3 226.1L254.9 192.9L341.1 160.9L422.9 134.4L469 121.1L535.3 97.9L601.6 74.7L667.9 59.3L712 50.4L738.6 46L755.1 47.8L755.1 447L734.1 454.9L690 449.3L623.7 435L557.4 415.1L509 401L438.3 377.5L378.7 356.5L305.8 327.8L230.6 290.3L186.4 269.3Z" fill="none" stroke="url(#rimB)" stroke-width="5" stroke-linejoin="round" filter="url(#b2)" style="mix-blend-mode:screen"/>
<path d="M547 250L562 220L595 173L650 125L706 98L780 60L780 440L734 412L690 380L646 352L602 315L560 276Z" fill="#000000" filter="url(#b11)"/>
<path d="M640 250L640 160L655 110L706 77L742 54L780 28L780 468L742 438L693 397L655 368L640 340Z" fill="#000000" filter="url(#b4)"/>
<path d="M548 250L562 220L595 173L650 120L680 115L640 250L680 385L650 372L602 318L560 278Z" fill="#290000" fill-opacity="0.9" filter="url(#b12)"/>
<path d="M590 250L620 180L660 140L700 130L680 250L700 370L660 360L620 320Z" fill="#0d0000" fill-opacity="0.9" filter="url(#b12)"/>
<path d="M600 82L660 62L710 50L745 45L757 46L757 50L715 66L660 88Z" fill="#0000c0" filter="url(#b4)" style="mix-blend-mode:screen"/>
</g></g></g></g>
<g font-size="37" fill="#0d0d0d">
<text transform="translate(48.32 99.00) scale(0.89 1)">1</text>
<text transform="translate(19.85 199.30) scale(0.89 1)">0.5</text>
<text transform="translate(46.99 299.30) scale(0.89 1)">0</text>
<text transform="translate(8.88 399.60) scale(0.89 1)">-0.5</text>
<text transform="translate(37.34 499.80) scale(0.89 1)">-1</text>
<text transform="translate(43.94 542.00) scale(0.89 1)">-1</text>
<text transform="translate(175.48 544.30) scale(0.89 1)">-0.5</text>
<text transform="translate(372.79 545.80) scale(0.89 1)">0</text>
<text transform="translate(503.15 547.00) scale(0.89 1)">0.5</text>
<text transform="translate(690.92 550.50) scale(0.89 1)">1</text>
<text transform="translate(739.57 534.00) scale(0.89 1)">-1</text>
<text transform="translate(772.38 494.40) scale(0.89 1)">0</text>
<text transform="translate(806.28 455.60) scale(0.89 1)">1</text>
<text transform="translate(783.19 534.00) scale(0.98 1)">&lt;Z&gt;</text>
<text transform="translate(403.35 564.70) scale(1.0 1)">&lt;XX&gt;</text>
<text transform="translate(30 342.24) rotate(-90) scale(0.94 1)">&lt;O(<tspan font-family='"Liberation Serif",serif' font-size="37.7">Θ</tspan>)&gt;</text>
<text y="58.3"><tspan x="182.07" textLength="25.89" lengthAdjust="spacingAndGlyphs" style='font-family:"Liberation Serif",serif' font-size="37.7">Θ</tspan><tspan x="208.51" textLength="38.60" lengthAdjust="spacingAndGlyphs">=0</tspan></text>
</g>
</g>
</svg>
</body></html>
